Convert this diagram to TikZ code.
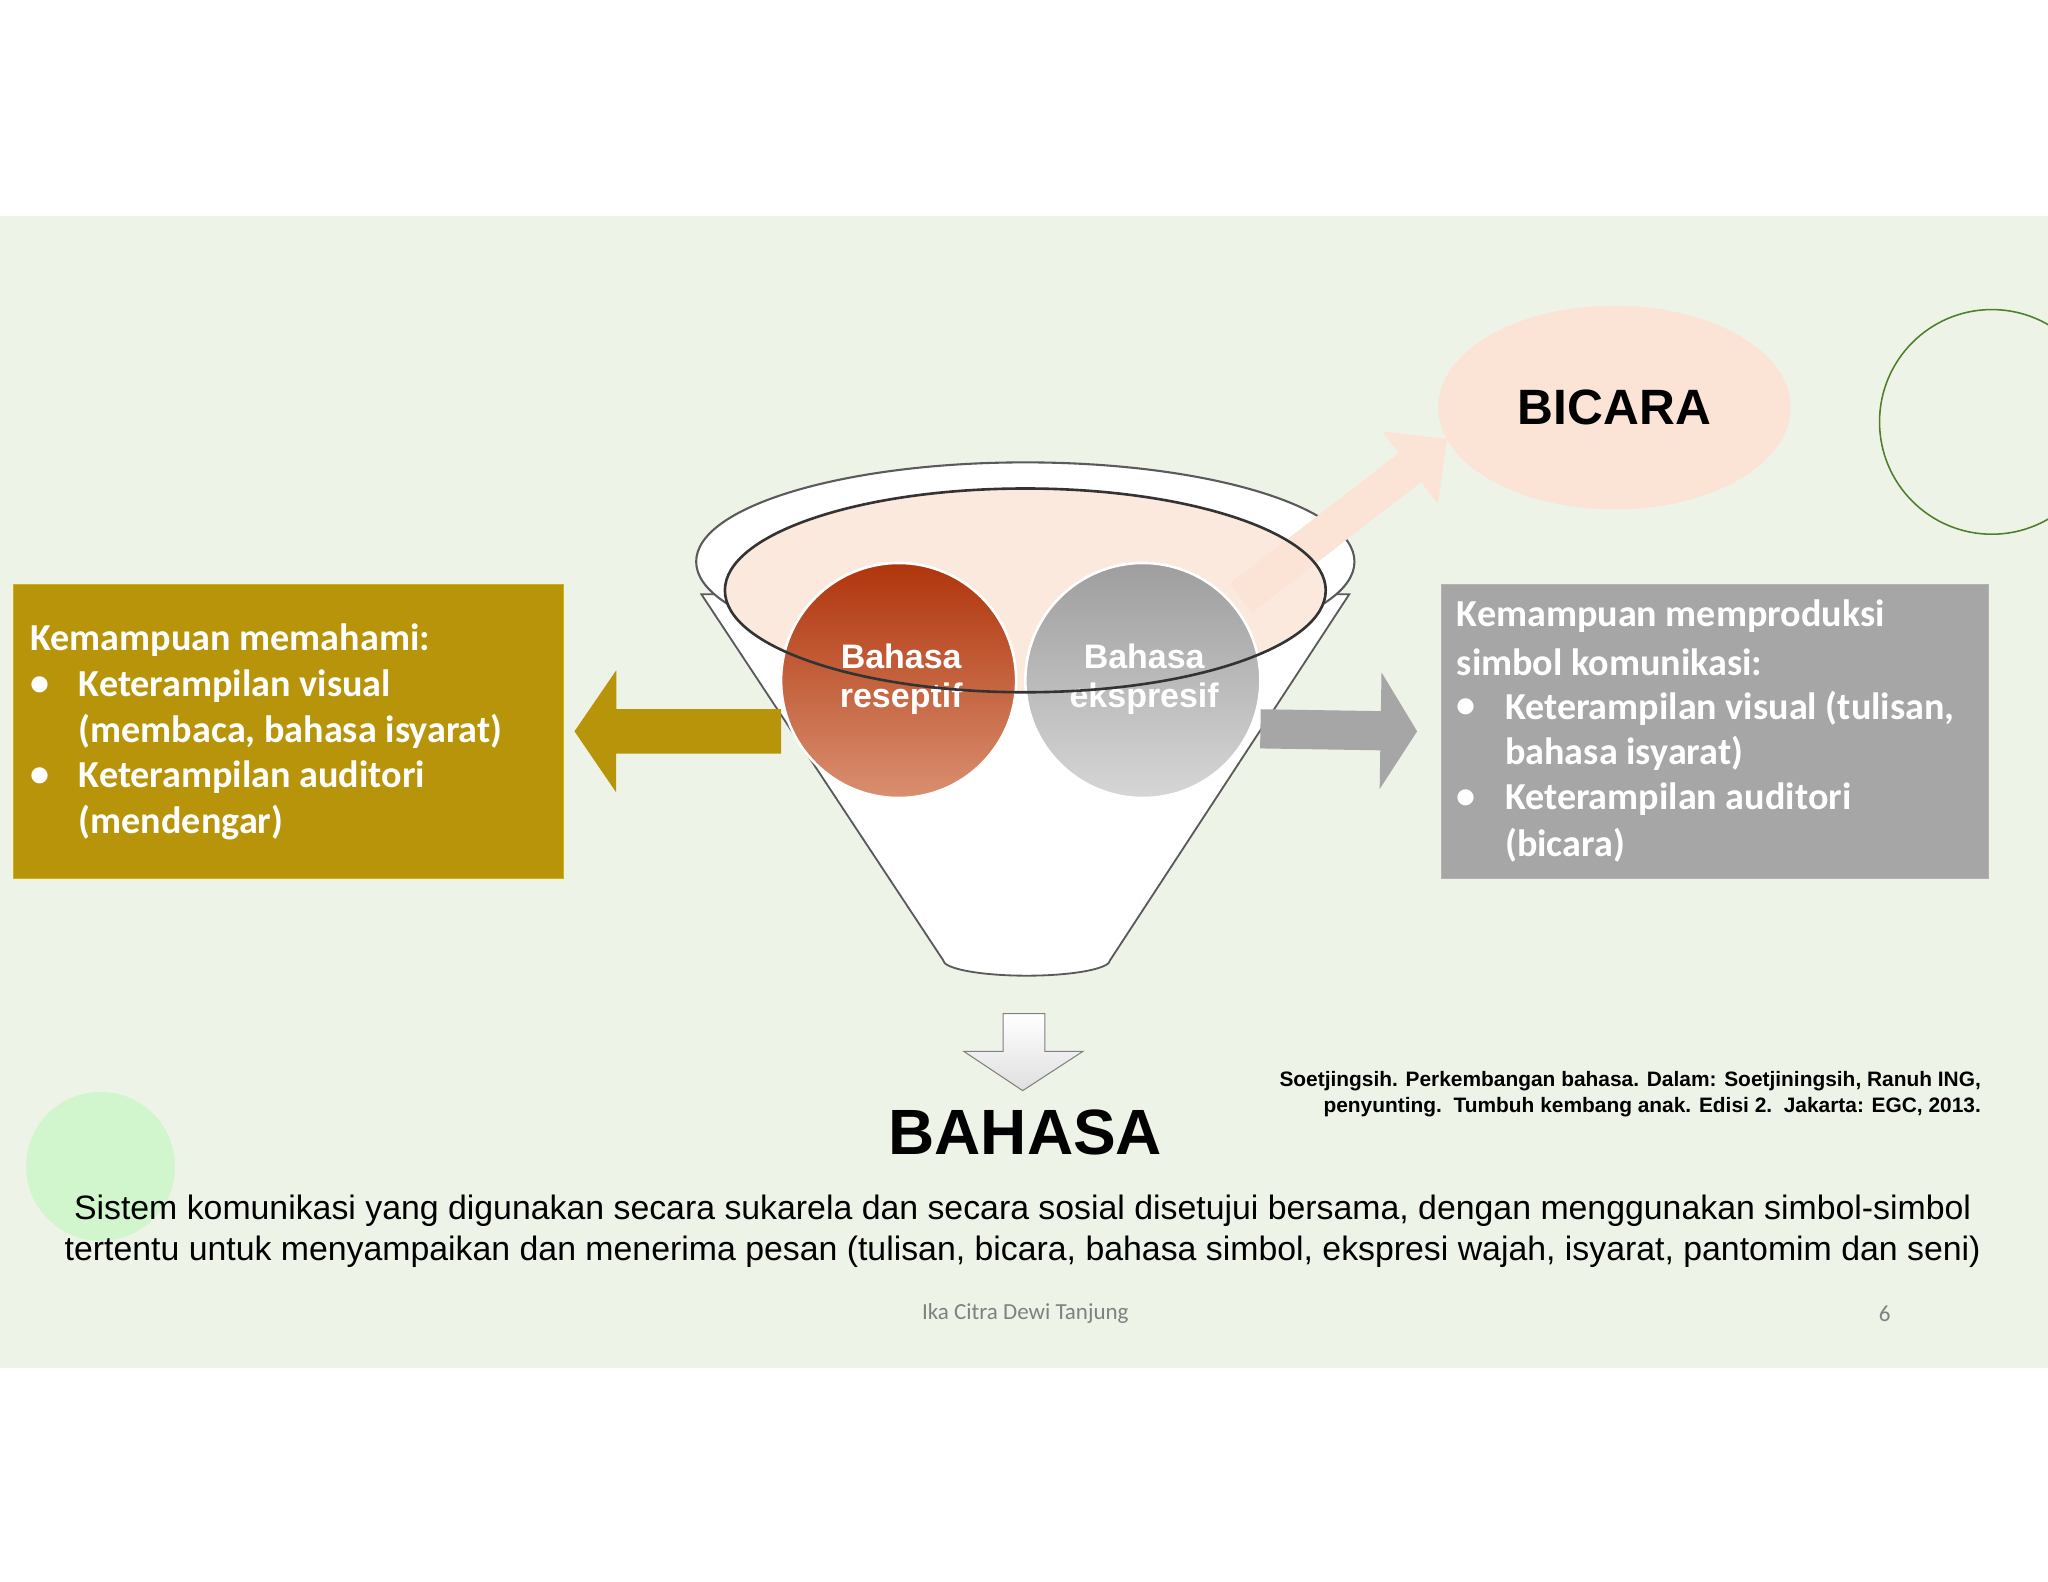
\documentclass[tikz,border=0pt]{standalone}
\usepackage{fontspec}
\setmainfont{Liberation Sans}
\newfontfamily\carl{Carlito}
\usetikzlibrary{arrows.meta,shapes.geometric}
\definecolor{slidebg}{HTML}{EEF3E8}
\definecolor{gold}{HTML}{B8940A}
\definecolor{boxgray}{HTML}{A6A6A6}
\definecolor{pinkf}{HTML}{FBE3D6}
\definecolor{rimgray}{HTML}{5A5A5A}
\definecolor{redtop}{HTML}{B0350C}
\definecolor{redbot}{HTML}{D98F70}
\definecolor{graytop}{HTML}{9E9E9E}
\definecolor{graybot}{HTML}{D6D6D6}
\definecolor{olive}{HTML}{4F7F2A}
\begin{document}
\begin{tikzpicture}[x=0.5pt,y=-0.5pt,
  boxtxt/.style={anchor=west,text=white,font=\carl\fontsize{14.6}{17}\selectfont\bfseries,inner sep=0},
  circtxt/.style={text=white,font=\fontsize{13}{15}\selectfont\bfseries,align=center},
  bodytxt/.style={font=\fontsize{12.95}{15}\selectfont},
  reftxt/.style={anchor=east,font=\fontsize{8}{9}\selectfont\bfseries,inner sep=0}]
\useasboundingbox (0,0) rectangle (1568,1211);
\fill[white] (0,0) rectangle (1568,1211);
\fill[slidebg] (0,165) rectangle (1568,1047);
\begin{scope}
\clip (0,165) rectangle (1568,1047);
\draw[olive,line width=0.6pt] (1525,323) circle[radius=86];
\end{scope}
\fill[green!12!slidebg] (77,893) circle[radius=57];
% funnel
\draw[rimgray,fill=white,line width=0.7pt] (537,455) -- (722,735) arc[start angle=180,end angle=0,x radius=64,y radius=12] -- (1033,455) -- cycle;
\draw[rimgray,fill=white,line width=0.8pt] (785,430) ellipse[x radius=252,y radius=76];
\fill[pinkf!80!white] (785,452) ellipse[x radius=230,y radius=78];
% pink arrow
\coordinate (pa) at (950,458);
\node[draw=none,ellipse,fill=pinkf,minimum width=135pt,minimum height=78pt] (bicara) at (1236,312) {};
\node[font=\fontsize{19}{22}\selectfont\bfseries] at (bicara) {BICARA};
\draw[pinkf,line width=14pt,-{Triangle[width=34pt,length=18pt]}] (pa) -- (1108,336);
% side arrows
\coordinate (la) at (598,560);
\coordinate (ra) at (965,558);
\node[fill=gold,minimum width=210.5pt,minimum height=112.5pt,anchor=north west,inner sep=0,draw=gold!70!yellow] (lbox) at (10,447) {};
\node[fill=boxgray,minimum width=209.5pt,minimum height=112.5pt,anchor=north west,inner sep=0,draw=gray!60] (rbox) at (1103,447) {};
\draw[gold,line width=17pt,-{Triangle[width=46pt,length=16pt]}] (la) -- ([xshift=4pt]lbox.east);
\draw[boxgray,line width=15pt,-{Triangle[width=44pt,length=14pt]}] (ra) -- ([xshift=-9pt]rbox.west);
% circles
\shade[top color=redtop,bottom color=redbot] (688,521) circle[radius=90];
\draw[white,line width=1pt] (688,521) circle[radius=90];
\node (rec) at (688,521) {};
\shade[top color=graytop,bottom color=graybot] (875,521) circle[radius=90];
\draw[white,line width=1pt] (875,521) circle[radius=90];
\node (eks) at (875,521) {};
\node[circtxt] at (690,520) {Bahasa\\reseptif};
\node[circtxt] at (876,520) {Bahasa\\ekspresif};
\draw[black!80,line width=1pt] (785,452) ellipse[x radius=230,y radius=78];
% box texts
\node[boxtxt] at (23,490) {Kemampuan memahami:};
\node[boxtxt] at (23,525) {•};
\node[boxtxt] at (60,525) {Keterampilan visual};
\node[boxtxt] at (60,560) {(membaca, bahasa isyarat)};
\node[boxtxt] at (23,595) {•};
\node[boxtxt] at (60,595) {Keterampilan auditori};
\node[boxtxt] at (60,630) {(mendengar)};
\node[boxtxt] at (1115,472) {Kemampuan memproduksi};
\node[boxtxt] at (1115,507) {simbol komunikasi:};
\node[boxtxt] at (1115,542) {•};
\node[boxtxt] at (1152,542) {Keterampilan visual (tulisan,};
\node[boxtxt] at (1152,577) {bahasa isyarat)};
\node[boxtxt] at (1115,612) {•};
\node[boxtxt] at (1152,612) {Keterampilan auditori};
\node[boxtxt] at (1152,647) {(bicara)};
% down arrow
\draw[gray,top color=white,bottom color=gray!25] (768,776) -- (800,776) -- (800,805) -- (829,805) -- (783,835) -- (738,805) -- (768,805) -- cycle;
\node[font=\fontsize{24.5}{28}\selectfont\bfseries] (bahasa) at (785,867) {BAHASA};
\node[reftxt] at (1517,828) {Soetjingsih. Perkembangan bahasa. Dalam: Soetjiningsih, Ranuh ING,};
\node[reftxt] at (1517,848) {penyunting.\ \ Tumbuh kembang anak. Edisi 2.\ \ Jakarta: EGC, 2013.};
\node[bodytxt] at (783,927) {Sistem komunikasi yang digunakan secara sukarela dan secara sosial disetujui bersama, dengan menggunakan simbol-simbol};
\node[bodytxt] at (783,958) {tertentu untuk menyampaikan dan menerima pesan (tulisan, bicara, bahasa simbol, ekspresi wajah, isyarat, pantomim dan seni)};
\node[font=\carl\fontsize{8.8}{10}\selectfont,text=gray] at (785,1006) {Ika Citra Dewi Tanjung};
\node[font=\carl\fontsize{8.8}{10}\selectfont,text=gray] at (1443,1006) {6};
\end{tikzpicture}
\end{document}
